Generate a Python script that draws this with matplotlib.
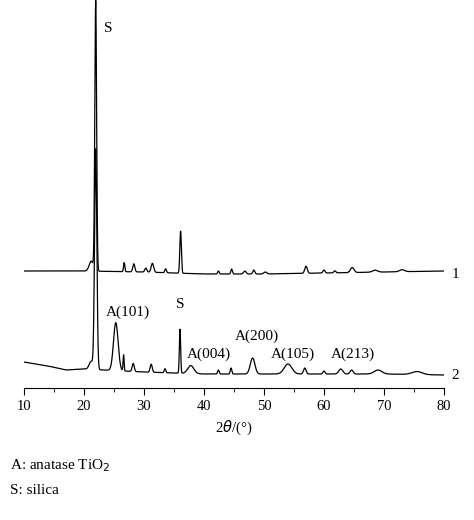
import numpy as np
import matplotlib
matplotlib.use("Agg")
import matplotlib.pyplot as plt

plt.rcParams['font.family'] = ['Liberation Serif', 'DejaVu Serif']

# Baselines (height above axis, arbitrary units) at sample angles
base1_x = [10, 20, 30, 40, 50, 60, 70, 80]
base1_y = [117, 117, 116, 114, 114, 115, 116, 117]
base2_x = [10, 14, 17, 20, 30, 40, 50, 60, 70, 80]
base2_y = [26, 22, 18, 19, 16, 14, 14, 14, 14, 13]

# Peaks: position, height, width (FWHM-like, degrees)
pk1_pos = [21.2, 21.95, 26.7, 28.3, 30.3, 31.4, 33.6, 36.1, 42.4, 44.6, 46.8, 48.3, 50.2, 57.0, 60.0, 61.8, 64.7, 68.5, 73.0]
pk1_h   = [10,   270,   9,    8,    4,    9,    4,    42,   3,    5,    3,    4,    2,    7,    3,    2,    5,    2,    2]
pk1_w   = [0.8,  0.35,  0.25, 0.4,  0.4,  0.5,  0.3,  0.3,  0.3,  0.3,  0.5,  0.4,  0.6,  0.5,  0.4,  0.4,  0.7,  1.0,  1.0]

pk2_pos = [21.2, 21.95, 25.3, 26.6, 28.2, 31.2, 33.5, 36.0, 37.8, 42.4, 44.5, 48.1, 54.0, 56.8, 60.0, 62.8, 64.6, 69.0, 75.5]
pk2_h   = [8,    220,   48,   16,   8,    8,    4,    44,   8,    4,    6,    16,   10,   6,    3,    5,    4,    4,    3]
pk2_w   = [0.8,  0.45,  0.9,  0.2,  0.4,  0.4,  0.3,  0.25, 1.2,  0.3,  0.3,  0.9,  1.5,  0.5,  0.4,  0.8,  0.6,  1.5,  2.0]

x = np.linspace(10, 80, 3000)

def pattern(bx, by, pos, h, w):
    y = np.interp(x, bx, by)
    for p, hh, ww in zip(pos, h, w):
        y = y + hh * np.exp(-4 * np.log(2) * ((x - p) / ww) ** 2)
    return y

y1 = pattern(base1_x, base1_y, pk1_pos, pk1_h, pk1_w)
y2 = pattern(base2_x, base2_y, pk2_pos, pk2_h, pk2_w)

fig = plt.figure(figsize=(4.74, 5.20), dpi=100)
ax = fig.add_axes([24/474, 132/520, 420/474, 388/520])
ax.plot(x, y1, color='black', lw=0.9)
ax.plot(x, y2, color='black', lw=0.9)
ax.set_xlim(10, 80)
ax.set_ylim(0, 388)
for s in ['top', 'right', 'left']:
    ax.spines[s].set_visible(False)
ax.set_yticks([])
ax.set_xticks(range(10, 81, 10))
ax.set_xticks(range(15, 80, 10), minor=True)
ax.tick_params(axis='x', direction='out', length=5, labelsize=10.5)
ax.tick_params(axis='x', which='minor', length=3)
ax.set_xlabel(r'2$\theta$/(°)', fontsize=10.5, labelpad=4)

fs = 11
ax.text(24.0, 356, 'S', fontsize=fs, ha='center')
ax.text(36.1, 80, 'S', fontsize=fs, ha='center')
ax.text(23.6, 72, 'A(101)', fontsize=fs)
ax.text(37.2, 30, 'A(004)', fontsize=fs)
ax.text(45.1, 48, 'A(200)', fontsize=fs)
ax.text(51.2, 30, 'A(105)', fontsize=fs)
ax.text(61.1, 30, 'A(213)', fontsize=fs)
ax.text(81.3, 110, '1', fontsize=fs)
ax.text(81.3, 9, '2', fontsize=fs)

fig.text(10/474, 1 - 466/520, 'A: anatase TiO$_2$', fontsize=fs, va='center')
fig.text(10/474, 1 - 491/520, 'S: silica', fontsize=fs, va='center')

fig.savefig('out.png', dpi=100)
